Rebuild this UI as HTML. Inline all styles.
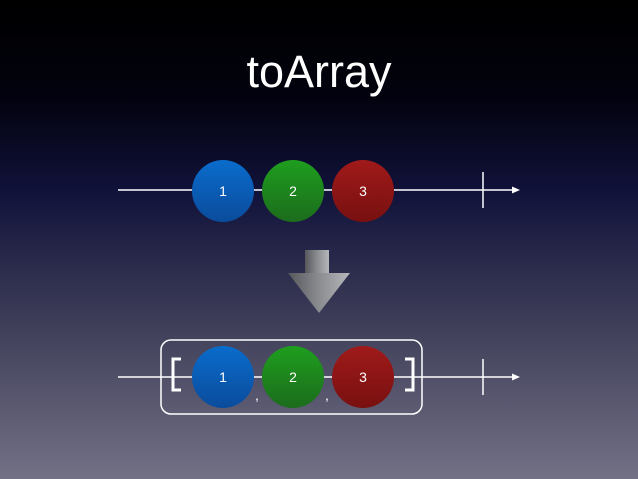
<!DOCTYPE html>
<html><head><meta charset="utf-8"><style>
html,body{margin:0;padding:0;width:638px;height:479px;overflow:hidden;background:#000}
svg{display:block}
</style></head><body>
<svg width="638" height="479" viewBox="0 0 638 479" xmlns="http://www.w3.org/2000/svg">
<defs>
<linearGradient id="bg" x1="0" y1="0" x2="0" y2="1">
<stop offset="0" stop-color="#000"/>
<stop offset="0.2" stop-color="#02020e"/>
<stop offset="0.4" stop-color="#11123a"/>
<stop offset="0.7" stop-color="#42425c"/>
<stop offset="1" stop-color="#737186"/>
</linearGradient>
<linearGradient id="ar" x1="0" y1="0" x2="1" y2="0">
<stop offset="0" stop-color="#55575c"/>
<stop offset="0.5" stop-color="#8a8c90"/>
<stop offset="1" stop-color="#b5b7ba"/>
</linearGradient>
<linearGradient id="b" x1="0" y1="0" x2="0" y2="1"><stop offset="0" stop-color="#0a6ccc"/><stop offset="1" stop-color="#0a4c9c"/></linearGradient>
<linearGradient id="g" x1="0" y1="0" x2="0" y2="1"><stop offset="0" stop-color="#1e9e1e"/><stop offset="1" stop-color="#1c6c1c"/></linearGradient>
<linearGradient id="r" x1="0" y1="0" x2="0" y2="1"><stop offset="0" stop-color="#a01a1a"/><stop offset="1" stop-color="#781010"/></linearGradient>
</defs>
<rect width="638" height="479" fill="url(#bg)"/>
<text x="319" y="87" text-anchor="middle" font-family="Liberation Sans, sans-serif" font-size="45" fill="#fff">toArray</text>

<g stroke="#fff" stroke-width="1.5" fill="none">
<line x1="118" y1="190" x2="514" y2="190"/>
<line x1="483" y1="172" x2="483" y2="208"/>
<line x1="118" y1="377" x2="514" y2="377"/>
<line x1="483" y1="359" x2="483" y2="395"/>
</g>
<polygon points="520,190 512,186.5 512,193.5" fill="#fff"/>
<polygon points="520,377 512,373.5 512,380.5" fill="#fff"/>

<g font-family="Liberation Sans, sans-serif" font-size="14" fill="#fff" text-anchor="middle">
<circle cx="223" cy="191" r="31" fill="url(#b)"/>
<circle cx="293" cy="191" r="31" fill="url(#g)"/>
<circle cx="363" cy="191" r="31" fill="url(#r)"/>
<text x="223" y="196">1</text><text x="293" y="196">2</text><text x="363" y="196">3</text>
</g>

<rect x="305" y="250" width="24" height="23" fill="url(#ar)"/>
<polygon points="288,273 350,273 319,313" fill="url(#ar)"/>

<rect x="161" y="340" width="261" height="74" rx="10" fill="none" stroke="#fff" stroke-width="1.5"/>
<g stroke="#fff" stroke-width="3" fill="none">
<polyline points="181,359 173,359 173,390 181,390"/>
<polyline points="405,359 413,359 413,390 405,390"/>
</g>
<g font-family="Liberation Sans, sans-serif" font-size="14" fill="#fff" text-anchor="middle">
<circle cx="223" cy="377" r="31" fill="url(#b)"/>
<circle cx="293" cy="377" r="31" fill="url(#g)"/>
<circle cx="363" cy="377" r="31" fill="url(#r)"/>
<text x="223" y="382">1</text><text x="293" y="382">2</text><text x="363" y="382">3</text>
<text x="257" y="400">,</text><text x="327" y="400">,</text>
</g>
</svg>
</body></html>
